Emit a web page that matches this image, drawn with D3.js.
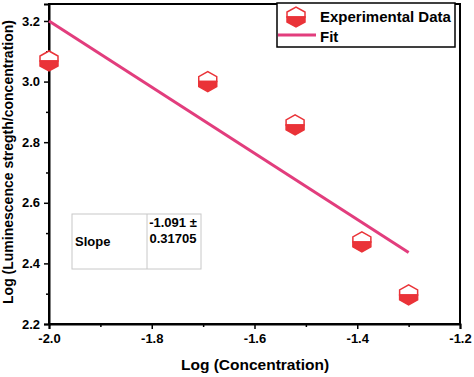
<!DOCTYPE html>
<html>
<head>
<script src="https://cdn.jsdelivr.net/npm/d3@7"></script>
<style>
  body { margin: 0; background: #fff; }
  text { font-family: "Liberation Sans", Arial, sans-serif; font-weight: bold; }
</style>
</head>
<body>
<script>
// data
const logConc = [-2.0, -1.691, -1.521, -1.391, -1.30];
const logLum = [3.068, 3.0, 2.857, 2.471, 2.296];
const fitX = [-2.0, -1.30];
const slope = -1.091;
const intercept = 3.2 + 1.091 * -2.0; // line passes 3.2 at x = -2
const xTicks = [-2.0, -1.8, -1.6, -1.4, -1.2];
const yTicks = [2.2, 2.4, 2.6, 2.8, 3.0, 3.2];

const w = 474, h = 377;
const pLeft = 49, pRight = 460, pTop = 4, pBottom = 324;

const svg = d3.select("body").append("svg")
  .attr("width", w).attr("height", h);

const x = d3.scaleLinear().domain([-2.0, -1.2]).range([pLeft, pRight]);
const y = d3.scaleLinear().domain([2.2, 3.256]).range([pBottom, pTop]);

const fmt = d => d.toFixed(1); // plain hyphen minus like the original

// frame
svg.append("rect")
  .attr("x", pLeft).attr("y", pTop)
  .attr("width", pRight - pLeft).attr("height", pBottom - pTop)
  .attr("fill", "none").attr("stroke", "#000").attr("stroke-width", 2);

// axes
svg.append("g")
  .attr("transform", "translate(0," + pBottom + ")")
  .call(d3.axisBottom(x).tickValues(xTicks).tickFormat(fmt).tickSize(5).tickPadding(5));
svg.append("g")
  .attr("transform", "translate(0," + pBottom + ")")
  .call(d3.axisBottom(x).tickValues([-1.9, -1.7, -1.5, -1.3]).tickFormat("").tickSize(3))
  .select(".domain").remove();

svg.append("g")
  .attr("transform", "translate(" + pLeft + ",0)")
  .call(d3.axisLeft(y).tickValues(yTicks).tickFormat(fmt).tickSize(5).tickPadding(4));
svg.append("g")
  .attr("transform", "translate(" + pLeft + ",0)")
  .call(d3.axisLeft(y).tickValues([2.3, 2.5, 2.7, 2.9, 3.1]).tickFormat("").tickSize(3))
  .select(".domain").remove();

svg.selectAll(".domain").attr("stroke-width", 2);
svg.selectAll(".tick line").attr("stroke-width", 1.5);
svg.selectAll(".tick text").attr("font-size", 13).attr("fill", "#000");

// fit line
svg.append("line")
  .attr("x1", x(fitX[0])).attr("y1", y(intercept + slope * fitX[0]))
  .attr("x2", x(fitX[1])).attr("y2", y(intercept + slope * fitX[1]))
  .attr("stroke", "#e23d7d").attr("stroke-width", 3);

// hexagon marker: top half white, bottom half red
function marker(g, cx, cy) {
  const r = 10, hw = 9;
  const up = [[cx - hw, cy], [cx - hw, cy - r / 2], [cx, cy - r], [cx + hw, cy - r / 2], [cx + hw, cy]];
  const dn = [[cx - hw, cy], [cx - hw, cy + r / 2], [cx, cy + r], [cx + hw, cy + r / 2], [cx + hw, cy]];
  g.append("polygon").attr("points", up.join(" ")).attr("fill", "#fff")
    .attr("stroke", "#ea3338").attr("stroke-width", 1.5);
  g.append("polygon").attr("points", dn.join(" ")).attr("fill", "#ea3338")
    .attr("stroke", "#ea3338").attr("stroke-width", 1.5);
}
const pts = svg.append("g");
logConc.forEach((d, i) => marker(pts, x(d), y(logLum[i])));

// legend
const lg = svg.append("g");
lg.append("rect").attr("x", 277).attr("y", 3).attr("width", 178).attr("height", 44)
  .attr("fill", "#fff").attr("stroke", "#000").attr("stroke-width", 1.5);
marker(lg, 296, 17);
lg.append("text").attr("x", 320).attr("y", 22).attr("font-size", 15).text("Experimental Data");
lg.append("line").attr("x1", 278).attr("x2", 316).attr("y1", 35).attr("y2", 35)
  .attr("stroke", "#e23d7d").attr("stroke-width", 3);
lg.append("text").attr("x", 320).attr("y", 42).attr("font-size", 15).text("Fit");

// slope table
const tb = svg.append("g");
tb.append("rect").attr("x", 72).attr("y", 214).attr("width", 129).attr("height", 55)
  .attr("fill", "#fff").attr("stroke", "#c8c8c8").attr("stroke-width", 1);
tb.append("line").attr("x1", 147).attr("x2", 147).attr("y1", 214).attr("y2", 269)
  .attr("stroke", "#c8c8c8");
tb.append("text").attr("x", 75).attr("y", 246).attr("font-size", 13).text("Slope");
tb.append("text").attr("x", 173).attr("y", 227).attr("font-size", 13).attr("text-anchor", "middle").text("-1.091 ±");
tb.append("text").attr("x", 173).attr("y", 243).attr("font-size", 13).attr("text-anchor", "middle").text("0.31705");

// axis titles
svg.append("text").attr("x", 255).attr("y", 370)
  .attr("text-anchor", "middle").attr("font-size", 15.5).text("Log (Concentration)");
svg.append("text").attr("transform", "translate(13," + 162 + ") rotate(-90)")
  .attr("text-anchor", "middle").attr("font-size", 14)
  .text("Log (Luminescence stregth/concentration)");
</script>
</body>
</html>
